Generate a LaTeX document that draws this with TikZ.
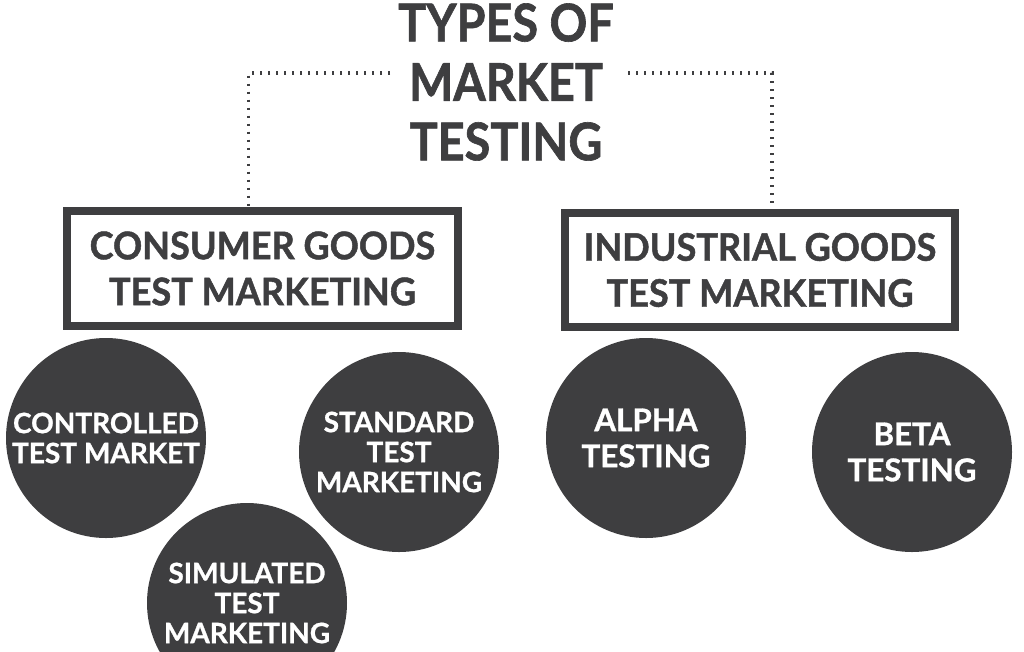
\documentclass[tikz,border=0pt]{standalone}
\usepackage{fontspec}
\setmainfont{Lato}
\newfontfamily\titlefont{Lato}[FakeStretch=0.9, BoldFeatures={FakeBold=1.2}]
\newfontfamily\headfont{Lato}[FakeStretch=0.95, BoldFeatures={FakeBold=1.2}]
\newfontfamily\circfont{Lato}[BoldFeatures={FakeBold=1.0}]
\definecolor{ink}{HTML}{3E3E40}
\begin{document}
\begin{tikzpicture}[x=0.75pt,y=-0.75pt,
  titlestyle/.style={font=\titlefont\bfseries\fontsize{39}{44.6}\selectfont, text=ink, align=center, inner sep=0},
  goodsbox/.style={draw=ink, line width=6pt, fill=white, minimum width=293pt, minimum height=86pt, inner sep=0,
    font=\headfont\bfseries\fontsize{28.5}{34.5}\selectfont, text=ink, align=center},
  bubble/.style={circle, fill=ink, minimum size=150pt, inner sep=0, text=white, align=center,
    font=\circfont\bfseries\fontsize{21}{22.5}\selectfont},
  bigbubble/.style={bubble, font=\circfont\bfseries\fontsize{23.5}{27}\selectfont},
  dotline/.style={draw=ink, line width=2.8pt, dash pattern=on 1.8pt off 4.2pt}]
\useasboundingbox (0,0) rectangle (1024,651);
\clip (0,0) rectangle (1024,651);
\fill[white] (0,0) rectangle (1024,651);

\node[titlestyle] (title) at (506,82) {TYPES OF\\MARKET\\TESTING};
\coordinate (tl) at (390,73);
\coordinate (tr) at (628,73);

\node[goodsbox] (consumer) at (262.5,268.5) {CONSUMER GOODS\\TEST MARKETING};
\node[goodsbox] (industrial) at (760,270) {INDUSTRIAL GOODS\\TEST MARKETING};

\draw[dotline] (tl) -| ([xshift=-10.5pt]consumer.north);
\draw[dotline] (tr) -| ([xshift=9pt]industrial.north);

\node[bubble] (controlled) at (106,438) {CONTROLLED\\TEST MARKET};
\node[bubble] (standard) at (399,452) {STANDARD\\TEST\\MARKETING};
\node[bubble] (simulated) at (247,603) {SIMULATED\\TEST\\MARKETING};
\node[bigbubble] (alpha) at (646,438) {ALPHA\\TESTING};
\node[bigbubble] (beta) at (912,452) {BETA\\TESTING};
\end{tikzpicture}
\end{document}
